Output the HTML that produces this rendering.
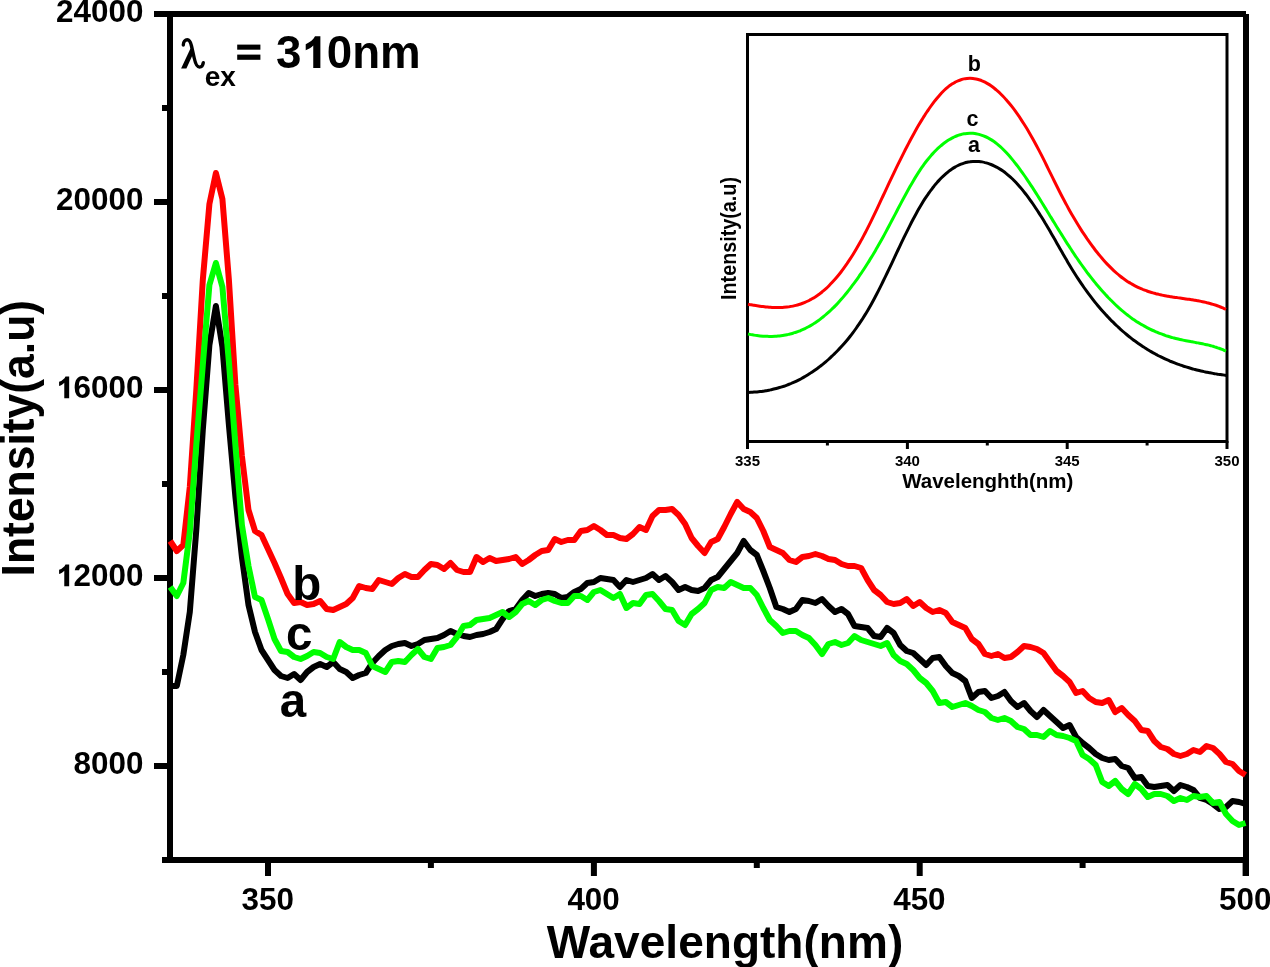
<!DOCTYPE html><html><head><meta charset="utf-8"><style>html,body{margin:0;padding:0;background:#fff;}svg{display:block;will-change:transform}text{font-family:"Liberation Sans",sans-serif;font-weight:bold;fill:#000}</style></head><body>
<svg width="1270" height="967" viewBox="0 0 1270 967">
<rect width="1270" height="967" fill="#fff"/>
<g fill="#000">
<rect x="154" y="11" width="1092" height="6"/>
<rect x="167" y="11" width="6" height="852"/>
<rect x="1243" y="14" width="6" height="862"/>
<rect x="162" y="857" width="1087" height="6"/>
<rect x="154" y="11.0" width="15" height="6"/>
<rect x="154" y="199.0" width="15" height="6"/>
<rect x="154" y="387.0" width="15" height="6"/>
<rect x="154" y="575.0" width="15" height="6"/>
<rect x="154" y="763.0" width="15" height="6"/>
<rect x="162" y="105.0" width="7" height="6"/>
<rect x="162" y="293.0" width="7" height="6"/>
<rect x="162" y="481.0" width="7" height="6"/>
<rect x="162" y="669.0" width="7" height="6"/>
<rect x="265.0" y="860" width="6" height="16"/>
<rect x="590.9" y="860" width="6" height="16"/>
<rect x="916.7" y="860" width="6" height="16"/>
<rect x="1242.6" y="860" width="6" height="16"/>
<rect x="427.9" y="860" width="6" height="8"/>
<rect x="753.8" y="860" width="6" height="8"/>
<rect x="1079.6" y="860" width="6" height="8"/>
</g>
<polyline points="170.2,686.0 176.8,686.0 183.3,655.0 189.8,612.0 196.3,530.0 202.8,430.0 209.4,345.0 215.9,306.0 222.4,347.0 228.9,425.0 235.4,497.0 241.9,557.0 248.5,605.0 255.0,632.0 261.5,650.0 268.0,660.0 274.5,670.0 281.0,676.0 287.6,678.0 294.1,674.0 300.6,680.0 307.1,672.0 313.6,667.0 320.1,664.0 326.7,667.0 333.2,662.0 339.7,669.0 346.2,672.0 352.7,678.0 359.2,675.0 365.8,673.0 372.3,663.0 378.8,656.0 385.3,650.0 391.8,646.0 398.3,644.0 404.9,643.0 411.4,646.0 417.9,644.0 424.4,640.0 430.9,639.0 437.4,638.0 444.0,635.0 450.5,631.0 457.0,634.0 463.5,636.0 470.0,637.0 476.5,635.0 483.1,634.0 489.6,632.0 496.1,629.0 502.6,619.0 509.1,611.0 515.7,609.0 522.2,600.0 528.7,593.0 535.2,596.0 541.7,594.0 548.2,593.0 554.8,594.0 561.3,598.0 567.8,597.0 574.3,592.0 580.8,589.0 587.3,583.0 593.9,582.0 600.4,578.0 606.9,579.0 613.4,580.0 619.9,587.0 626.4,580.0 633.0,582.0 639.5,580.0 646.0,578.0 652.5,574.0 659.0,580.0 665.5,576.0 672.1,582.0 678.6,590.0 685.1,587.0 691.6,590.0 698.1,591.0 704.6,588.0 711.2,580.0 717.7,577.0 724.2,569.0 730.7,561.0 737.2,553.0 743.7,541.0 750.3,550.0 756.8,555.0 763.3,571.0 769.8,588.0 776.3,607.0 782.8,609.0 789.4,612.0 795.9,609.0 802.4,600.0 808.9,601.0 815.4,603.0 822.0,599.0 828.5,606.0 835.0,612.0 841.5,609.0 848.0,614.0 854.5,626.0 861.1,627.0 867.6,628.0 874.1,636.0 880.6,637.0 887.1,628.0 893.6,633.0 900.2,645.0 906.7,651.0 913.2,653.0 919.7,659.0 926.2,665.0 932.7,658.0 939.3,657.0 945.8,666.0 952.3,673.0 958.8,676.0 965.3,681.0 971.8,698.0 978.4,692.0 984.9,691.0 991.4,698.0 997.9,696.0 1004.4,692.0 1010.9,701.0 1017.5,707.0 1024.0,703.0 1030.5,711.0 1037.0,717.0 1043.5,710.0 1050.0,716.0 1056.6,722.0 1063.1,728.0 1069.6,725.0 1076.1,737.0 1082.6,743.0 1089.1,748.0 1095.7,754.0 1102.2,758.0 1108.7,760.0 1115.2,759.0 1121.7,766.0 1128.2,768.0 1134.8,778.0 1141.3,777.0 1147.8,786.0 1154.3,787.0 1160.8,786.0 1167.4,785.0 1173.9,791.0 1180.4,785.0 1186.9,787.0 1193.4,790.0 1199.9,798.0 1206.5,800.0 1213.0,804.0 1219.5,809.0 1226.0,807.0 1232.5,801.0 1239.0,802.0 1245.5,804.0" fill="none" stroke="#000" stroke-width="6" stroke-linejoin="round" stroke-linecap="butt"/>
<polyline points="170.2,541.0 176.8,551.0 183.3,545.0 189.8,487.0 196.3,390.0 202.8,280.0 209.4,204.0 215.9,173.0 222.4,199.0 228.9,280.0 235.4,385.0 241.9,456.0 248.5,510.0 255.0,531.0 261.5,535.0 268.0,549.0 274.5,563.0 281.0,578.0 287.6,594.0 294.1,603.0 300.6,602.0 307.1,605.0 313.6,604.0 320.1,601.0 326.7,609.0 333.2,610.0 339.7,607.0 346.2,604.0 352.7,598.0 359.2,586.0 365.8,588.0 372.3,589.0 378.8,580.0 385.3,582.0 391.8,584.0 398.3,578.0 404.9,574.0 411.4,577.0 417.9,577.0 424.4,570.0 430.9,564.0 437.4,565.0 444.0,569.0 450.5,563.0 457.0,570.0 463.5,572.0 470.0,572.0 476.5,557.0 483.1,562.0 489.6,558.0 496.1,561.0 502.6,560.0 509.1,559.0 515.7,557.0 522.2,564.0 528.7,560.0 535.2,555.0 541.7,551.0 548.2,550.0 554.8,539.0 561.3,542.0 567.8,540.0 574.3,540.0 580.8,531.0 587.3,530.0 593.9,526.0 600.4,530.0 606.9,535.0 613.4,535.0 619.9,538.0 626.4,539.0 633.0,534.0 639.5,527.0 646.0,530.0 652.5,516.0 659.0,510.0 665.5,510.0 672.1,509.0 678.6,515.0 685.1,524.0 691.6,538.0 698.1,546.0 704.6,553.0 711.2,542.0 717.7,539.0 724.2,527.0 730.7,514.0 737.2,502.0 743.7,509.0 750.3,512.0 756.8,518.0 763.3,531.0 769.8,547.0 776.3,550.0 782.8,553.0 789.4,560.0 795.9,562.0 802.4,557.0 808.9,556.0 815.4,554.0 822.0,556.0 828.5,559.0 835.0,560.0 841.5,564.0 848.0,566.0 854.5,566.0 861.1,568.0 867.6,580.0 874.1,590.0 880.6,595.0 887.1,602.0 893.6,604.0 900.2,603.0 906.7,599.0 913.2,606.0 919.7,602.0 926.2,608.0 932.7,612.0 939.3,610.0 945.8,613.0 952.3,622.0 958.8,625.0 965.3,628.0 971.8,639.0 978.4,644.0 984.9,654.0 991.4,656.0 997.9,654.0 1004.4,658.0 1010.9,657.0 1017.5,652.0 1024.0,646.0 1030.5,647.0 1037.0,649.0 1043.5,653.0 1050.0,662.0 1056.6,671.0 1063.1,676.0 1069.6,682.0 1076.1,693.0 1082.6,691.0 1089.1,698.0 1095.7,702.0 1102.2,703.0 1108.7,700.0 1115.2,712.0 1121.7,708.0 1128.2,715.0 1134.8,721.0 1141.3,730.0 1147.8,731.0 1154.3,741.0 1160.8,747.0 1167.4,749.0 1173.9,754.0 1180.4,756.0 1186.9,754.0 1193.4,750.0 1199.9,752.0 1206.5,746.0 1213.0,748.0 1219.5,754.0 1226.0,762.0 1232.5,764.0 1239.0,771.0 1245.5,775.0" fill="none" stroke="#f00" stroke-width="6" stroke-linejoin="round" stroke-linecap="butt"/>
<polyline points="170.2,587.0 176.8,596.0 183.3,583.0 189.8,532.0 196.3,445.0 202.8,365.0 209.4,285.0 215.9,263.0 222.4,287.0 228.9,362.0 235.4,445.0 241.9,525.0 248.5,566.0 255.0,597.0 261.5,600.0 268.0,619.0 274.5,639.0 281.0,651.0 287.6,652.0 294.1,657.0 300.6,659.0 307.1,656.0 313.6,652.0 320.1,653.0 326.7,657.0 333.2,659.0 339.7,642.0 346.2,647.0 352.7,650.0 359.2,650.0 365.8,653.0 372.3,666.0 378.8,669.0 385.3,672.0 391.8,662.0 398.3,661.0 404.9,662.0 411.4,655.0 417.9,649.0 424.4,657.0 430.9,659.0 437.4,648.0 444.0,647.0 450.5,645.0 457.0,637.0 463.5,626.0 470.0,625.0 476.5,620.0 483.1,619.0 489.6,618.0 496.1,615.0 502.6,612.0 509.1,617.0 515.7,612.0 522.2,604.0 528.7,601.0 535.2,605.0 541.7,600.0 548.2,598.0 554.8,601.0 561.3,603.0 567.8,603.0 574.3,596.0 580.8,596.0 587.3,600.0 593.9,592.0 600.4,590.0 606.9,594.0 613.4,598.0 619.9,594.0 626.4,608.0 633.0,603.0 639.5,604.0 646.0,595.0 652.5,594.0 659.0,601.0 665.5,609.0 672.1,610.0 678.6,621.0 685.1,625.0 691.6,614.0 698.1,609.0 704.6,603.0 711.2,590.0 717.7,587.0 724.2,588.0 730.7,582.0 737.2,585.0 743.7,588.0 750.3,588.0 756.8,595.0 763.3,608.0 769.8,620.0 776.3,626.0 782.8,633.0 789.4,631.0 795.9,631.0 802.4,635.0 808.9,638.0 815.4,645.0 822.0,654.0 828.5,644.0 835.0,642.0 841.5,645.0 848.0,643.0 854.5,636.0 861.1,640.0 867.6,642.0 874.1,644.0 880.6,646.0 887.1,643.0 893.6,655.0 900.2,661.0 906.7,664.0 913.2,670.0 919.7,678.0 926.2,683.0 932.7,691.0 939.3,703.0 945.8,702.0 952.3,707.0 958.8,705.0 965.3,703.0 971.8,706.0 978.4,710.0 984.9,712.0 991.4,718.0 997.9,720.0 1004.4,718.0 1010.9,721.0 1017.5,727.0 1024.0,729.0 1030.5,735.0 1037.0,735.0 1043.5,737.0 1050.0,731.0 1056.6,735.0 1063.1,736.0 1069.6,738.0 1076.1,741.0 1082.6,755.0 1089.1,759.0 1095.7,765.0 1102.2,782.0 1108.7,786.0 1115.2,781.0 1121.7,789.0 1128.2,794.0 1134.8,784.0 1141.3,789.0 1147.8,797.0 1154.3,794.0 1160.8,794.0 1167.4,796.0 1173.9,801.0 1180.4,798.0 1186.9,800.0 1193.4,796.0 1199.9,797.0 1206.5,796.0 1213.0,803.0 1219.5,802.0 1226.0,814.0 1232.5,821.0 1239.0,825.0 1245.5,823.0" fill="none" stroke="#0f0" stroke-width="6" stroke-linejoin="round" stroke-linecap="butt"/>
<text x="56.08" y="22.20" font-size="31.4" >24000</text>
<text x="56.08" y="210.20" font-size="31.4" >20000</text>
<path transform="translate(56.08,398.20) scale(31.4)" d="M0.261,0 L0.417,0 L0.417,-0.691 L0.3,-0.691 C0.27,-0.62 0.19,-0.555 0.096,-0.52 L0.096,-0.385 C0.16,-0.41 0.22,-0.445 0.261,-0.49 Z" fill="#000"/><text x="73.55" y="398.20" font-size="31.4" >6000</text>
<path transform="translate(56.08,586.20) scale(31.4)" d="M0.261,0 L0.417,0 L0.417,-0.691 L0.3,-0.691 C0.27,-0.62 0.19,-0.555 0.096,-0.52 L0.096,-0.385 C0.16,-0.41 0.22,-0.445 0.261,-0.49 Z" fill="#000"/><text x="73.55" y="586.20" font-size="31.4" >2000</text>
<text x="73.55" y="774.20" font-size="31.4" >8000</text>
<text x="267.7" y="910" font-size="31.4" text-anchor="middle">350</text>
<text x="593.6" y="910" font-size="31.4" text-anchor="middle">400</text>
<text x="919.4" y="910" font-size="31.4" text-anchor="middle">450</text>
<text x="1245.3" y="910" font-size="31.4" text-anchor="middle">500</text>
<text x="725.0" y="957.7" font-size="45.3" text-anchor="middle" textLength="356.5" lengthAdjust="spacingAndGlyphs">Wavelength(nm)</text>
<text transform="translate(34.2,438.15) rotate(-90)" x="0" y="0" font-size="47" text-anchor="middle" textLength="276.5" lengthAdjust="spacingAndGlyphs">Intensity(a.u)</text>
<path d="M183.3,45.0 C183.3,41.4 185.3,39.8 187.3,39.8 C189.5,39.8 190.7,42.5 191.5,46 L194.2,58 C195.5,64 197,67.1 199.5,67.1 C201.8,67.1 203,65 203.3,62.6" fill="none" stroke="#000" stroke-width="3.4" stroke-linecap="round"/>
<path d="M181.1,68.4 L186.4,68.4 L193.3,53.5 L190.6,48.3 Z" fill="#000"/>
<text x="204.7" y="86.4" font-size="28">ex</text>
<rect x="237.2" y="44.6" width="23.2" height="5.1" fill="#000"/><rect x="237.2" y="54.6" width="23.2" height="5.2" fill="#000"/>
<text x="275.90" y="67.90" font-size="45.7" >3</text><path transform="translate(301.32,67.90) scale(45.7)" d="M0.261,0 L0.417,0 L0.417,-0.691 L0.3,-0.691 C0.27,-0.62 0.19,-0.555 0.096,-0.52 L0.096,-0.385 C0.16,-0.41 0.22,-0.445 0.261,-0.49 Z" fill="#000"/><text x="326.73" y="67.90" font-size="45.7" >0nm</text>
<text x="292.3" y="600" font-size="47.5">b</text>
<text x="286" y="650.4" font-size="47.5">c</text>
<text x="279.8" y="717" font-size="47.5">a</text>
<rect x="747.5" y="34.5" width="479.5" height="407" fill="#fff" stroke="#000" stroke-width="3"/>
<path d="M748.0,392.4 C748.5,392.4 750.0,392.4 751.0,392.3 C752.0,392.2 753.0,392.2 754.0,392.1 C755.0,392.0 756.0,392.0 757.0,391.9 C758.0,391.8 759.0,391.7 760.0,391.6 C761.0,391.5 762.0,391.4 763.0,391.2 C764.0,391.0 765.0,390.9 766.0,390.7 C767.0,390.5 768.0,390.4 769.0,390.2 C770.0,390.0 771.0,389.7 772.0,389.5 C773.0,389.3 774.0,389.1 775.0,388.8 C776.0,388.6 777.0,388.3 778.0,388.0 C779.0,387.7 780.0,387.4 781.0,387.1 C782.0,386.8 783.0,386.5 784.0,386.2 C785.0,385.9 786.0,385.5 787.0,385.1 C788.0,384.7 789.0,384.3 790.0,383.9 C791.0,383.5 792.0,383.0 793.0,382.6 C794.0,382.2 795.0,381.8 796.0,381.3 C797.0,380.8 798.0,380.3 799.0,379.8 C800.0,379.3 801.0,378.8 802.0,378.2 C803.0,377.6 804.0,377.1 805.0,376.5 C806.0,375.9 807.0,375.3 808.0,374.7 C809.0,374.1 810.0,373.4 811.0,372.8 C812.0,372.2 813.0,371.5 814.0,370.8 C815.0,370.1 816.0,369.4 817.0,368.7 C818.0,368.0 819.0,367.2 820.0,366.4 C821.0,365.6 822.0,364.9 823.0,364.1 C824.0,363.3 825.0,362.5 826.0,361.6 C827.0,360.8 828.0,359.9 829.0,359.0 C830.0,358.1 831.0,357.1 832.0,356.2 C833.0,355.2 834.0,354.3 835.0,353.3 C836.0,352.3 837.0,351.3 838.0,350.3 C839.0,349.3 840.0,348.2 841.0,347.1 C842.0,346.0 843.0,344.9 844.0,343.8 C845.0,342.7 846.0,341.5 847.0,340.3 C848.0,339.1 849.0,337.8 850.0,336.5 C851.0,335.2 852.0,333.9 853.0,332.6 C854.0,331.3 855.0,329.9 856.0,328.5 C857.0,327.1 858.0,325.7 859.0,324.2 C860.0,322.7 861.0,321.2 862.0,319.7 C863.0,318.1 864.0,316.5 865.0,314.9 C866.0,313.3 867.0,311.6 868.0,309.9 C869.0,308.2 870.0,306.5 871.0,304.7 C872.0,302.9 873.0,301.1 874.0,299.2 C875.0,297.3 876.0,295.4 877.0,293.5 C878.0,291.6 879.0,289.6 880.0,287.6 C881.0,285.6 882.0,283.5 883.0,281.5 C884.0,279.5 885.0,277.5 886.0,275.4 C887.0,273.3 888.0,271.2 889.0,269.1 C890.0,267.0 891.0,264.9 892.0,262.8 C893.0,260.7 894.0,258.5 895.0,256.4 C896.0,254.3 897.0,252.1 898.0,250.0 C899.0,247.9 900.0,245.8 901.0,243.7 C902.0,241.6 903.0,239.5 904.0,237.4 C905.0,235.3 906.0,233.3 907.0,231.3 C908.0,229.3 909.0,227.3 910.0,225.3 C911.0,223.3 912.0,221.4 913.0,219.5 C914.0,217.6 915.0,215.7 916.0,213.9 C917.0,212.1 918.0,210.3 919.0,208.6 C920.0,206.9 921.0,205.2 922.0,203.5 C923.0,201.8 924.0,200.2 925.0,198.7 C926.0,197.2 927.0,195.7 928.0,194.3 C929.0,192.9 930.0,191.4 931.0,190.1 C932.0,188.8 933.0,187.4 934.0,186.2 C935.0,184.9 936.0,183.8 937.0,182.6 C938.0,181.4 939.0,180.4 940.0,179.3 C941.0,178.2 942.0,177.2 943.0,176.3 C944.0,175.4 945.0,174.5 946.0,173.6 C947.0,172.7 948.0,171.9 949.0,171.1 C950.0,170.3 951.0,169.7 952.0,169.0 C953.0,168.3 954.0,167.7 955.0,167.1 C956.0,166.5 957.0,166.0 958.0,165.5 C959.0,165.0 960.0,164.6 961.0,164.2 C962.0,163.8 963.0,163.4 964.0,163.1 C965.0,162.8 966.0,162.5 967.0,162.3 C968.0,162.1 969.0,161.8 970.0,161.7 C971.0,161.5 972.0,161.4 973.0,161.4 C974.0,161.4 975.0,161.4 976.0,161.4 C977.0,161.4 978.0,161.4 979.0,161.5 C980.0,161.6 981.0,161.7 982.0,161.9 C983.0,162.1 984.0,162.3 985.0,162.6 C986.0,162.8 987.0,163.1 988.0,163.4 C989.0,163.7 990.0,164.1 991.0,164.5 C992.0,164.9 993.0,165.3 994.0,165.8 C995.0,166.3 996.0,166.8 997.0,167.3 C998.0,167.9 999.0,168.5 1000.0,169.1 C1001.0,169.7 1002.0,170.4 1003.0,171.1 C1004.0,171.8 1005.0,172.5 1006.0,173.3 C1007.0,174.1 1008.0,174.9 1009.0,175.8 C1010.0,176.7 1011.0,177.6 1012.0,178.5 C1013.0,179.4 1014.0,180.5 1015.0,181.5 C1016.0,182.5 1017.0,183.6 1018.0,184.7 C1019.0,185.8 1020.0,186.9 1021.0,188.1 C1022.0,189.3 1023.0,190.5 1024.0,191.8 C1025.0,193.1 1026.0,194.4 1027.0,195.7 C1028.0,197.0 1029.0,198.4 1030.0,199.8 C1031.0,201.2 1032.0,202.6 1033.0,204.0 C1034.0,205.4 1035.0,207.0 1036.0,208.5 C1037.0,210.0 1038.0,211.5 1039.0,213.1 C1040.0,214.7 1041.0,216.2 1042.0,217.8 C1043.0,219.4 1044.0,221.0 1045.0,222.7 C1046.0,224.3 1047.0,226.0 1048.0,227.7 C1049.0,229.4 1050.0,231.2 1051.0,232.9 C1052.0,234.6 1053.0,236.3 1054.0,238.1 C1055.0,239.8 1056.0,241.6 1057.0,243.4 C1058.0,245.2 1059.0,246.9 1060.0,248.7 C1061.0,250.4 1062.0,252.2 1063.0,253.9 C1064.0,255.6 1065.0,257.4 1066.0,259.1 C1067.0,260.8 1068.0,262.6 1069.0,264.3 C1070.0,266.0 1071.0,267.6 1072.0,269.2 C1073.0,270.8 1074.0,272.4 1075.0,274.0 C1076.0,275.6 1077.0,277.2 1078.0,278.7 C1079.0,280.2 1080.0,281.7 1081.0,283.2 C1082.0,284.7 1083.0,286.1 1084.0,287.5 C1085.0,288.9 1086.0,290.3 1087.0,291.7 C1088.0,293.1 1089.0,294.4 1090.0,295.7 C1091.0,297.0 1092.0,298.3 1093.0,299.6 C1094.0,300.9 1095.0,302.2 1096.0,303.4 C1097.0,304.6 1098.0,305.8 1099.0,307.0 C1100.0,308.2 1101.0,309.4 1102.0,310.5 C1103.0,311.6 1104.0,312.7 1105.0,313.8 C1106.0,314.9 1107.0,315.9 1108.0,317.0 C1109.0,318.1 1110.0,319.2 1111.0,320.2 C1112.0,321.2 1113.0,322.1 1114.0,323.1 C1115.0,324.1 1116.0,325.1 1117.0,326.0 C1118.0,326.9 1119.0,327.9 1120.0,328.8 C1121.0,329.7 1122.0,330.6 1123.0,331.5 C1124.0,332.4 1125.0,333.2 1126.0,334.0 C1127.0,334.8 1128.0,335.7 1129.0,336.5 C1130.0,337.3 1131.0,338.0 1132.0,338.8 C1133.0,339.6 1134.0,340.4 1135.0,341.1 C1136.0,341.8 1137.0,342.5 1138.0,343.2 C1139.0,343.9 1140.0,344.6 1141.0,345.3 C1142.0,346.0 1143.0,346.7 1144.0,347.3 C1145.0,347.9 1146.0,348.6 1147.0,349.2 C1148.0,349.8 1149.0,350.4 1150.0,351.0 C1151.0,351.6 1152.0,352.1 1153.0,352.7 C1154.0,353.3 1155.0,353.8 1156.0,354.4 C1157.0,354.9 1158.0,355.5 1159.0,356.0 C1160.0,356.5 1161.0,356.9 1162.0,357.4 C1163.0,357.9 1164.0,358.4 1165.0,358.9 C1166.0,359.4 1167.0,359.8 1168.0,360.2 C1169.0,360.6 1170.0,361.1 1171.0,361.5 C1172.0,361.9 1173.0,362.3 1174.0,362.7 C1175.0,363.1 1176.0,363.5 1177.0,363.9 C1178.0,364.3 1179.0,364.5 1180.0,364.9 C1181.0,365.2 1182.0,365.7 1183.0,366.0 C1184.0,366.3 1185.0,366.6 1186.0,366.9 C1187.0,367.2 1188.0,367.5 1189.0,367.8 C1190.0,368.1 1191.0,368.4 1192.0,368.7 C1193.0,369.0 1194.0,369.2 1195.0,369.5 C1196.0,369.8 1197.0,370.1 1198.0,370.3 C1199.0,370.6 1200.0,370.8 1201.0,371.0 C1202.0,371.2 1203.0,371.4 1204.0,371.6 C1205.0,371.8 1206.0,372.1 1207.0,372.3 C1208.0,372.5 1209.0,372.6 1210.0,372.8 C1211.0,373.0 1212.0,373.2 1213.0,373.4 C1214.0,373.6 1215.0,373.7 1216.0,373.9 C1217.0,374.1 1218.0,374.2 1219.0,374.4 C1220.0,374.5 1221.0,374.7 1222.0,374.8 C1223.0,374.9 1224.3,375.1 1225.0,375.2 C1225.7,375.3 1225.8,375.4 1226.0,375.4" fill="none" stroke="#000" stroke-width="3"/>
<path d="M748.0,304.3 C748.5,304.4 750.0,304.6 751.0,304.8 C752.0,305.0 753.0,305.1 754.0,305.3 C755.0,305.5 756.0,305.7 757.0,305.8 C758.0,305.9 759.0,306.1 760.0,306.2 C761.0,306.3 762.0,306.5 763.0,306.6 C764.0,306.7 765.0,306.9 766.0,307.0 C767.0,307.1 768.0,307.1 769.0,307.2 C770.0,307.3 771.0,307.3 772.0,307.4 C773.0,307.5 774.0,307.6 775.0,307.6 C776.0,307.6 777.0,307.6 778.0,307.6 C779.0,307.6 780.0,307.6 781.0,307.5 C782.0,307.4 783.0,307.4 784.0,307.3 C785.0,307.2 786.0,307.1 787.0,307.0 C788.0,306.9 789.0,306.8 790.0,306.6 C791.0,306.5 792.0,306.3 793.0,306.1 C794.0,305.9 795.0,305.7 796.0,305.4 C797.0,305.1 798.0,304.8 799.0,304.5 C800.0,304.2 801.0,303.9 802.0,303.5 C803.0,303.1 804.0,302.7 805.0,302.3 C806.0,301.9 807.0,301.5 808.0,301.0 C809.0,300.5 810.0,299.9 811.0,299.4 C812.0,298.8 813.0,298.3 814.0,297.7 C815.0,297.1 816.0,296.4 817.0,295.7 C818.0,295.0 819.0,294.4 820.0,293.6 C821.0,292.9 822.0,292.0 823.0,291.2 C824.0,290.4 825.0,289.5 826.0,288.6 C827.0,287.7 828.0,286.7 829.0,285.7 C830.0,284.7 831.0,283.7 832.0,282.6 C833.0,281.5 834.0,280.4 835.0,279.3 C836.0,278.2 837.0,277.0 838.0,275.8 C839.0,274.6 840.0,273.3 841.0,272.0 C842.0,270.7 843.0,269.3 844.0,267.9 C845.0,266.5 846.0,265.1 847.0,263.7 C848.0,262.2 849.0,260.7 850.0,259.2 C851.0,257.7 852.0,256.1 853.0,254.5 C854.0,252.9 855.0,251.2 856.0,249.5 C857.0,247.8 858.0,246.1 859.0,244.3 C860.0,242.5 861.0,240.8 862.0,238.9 C863.0,237.1 864.0,235.1 865.0,233.2 C866.0,231.3 867.0,229.3 868.0,227.3 C869.0,225.3 870.0,223.3 871.0,221.3 C872.0,219.3 873.0,217.2 874.0,215.1 C875.0,213.0 876.0,210.9 877.0,208.8 C878.0,206.7 879.0,204.5 880.0,202.4 C881.0,200.3 882.0,198.1 883.0,196.0 C884.0,193.9 885.0,191.7 886.0,189.6 C887.0,187.5 888.0,185.3 889.0,183.2 C890.0,181.1 891.0,179.0 892.0,176.9 C893.0,174.8 894.0,172.7 895.0,170.6 C896.0,168.5 897.0,166.4 898.0,164.4 C899.0,162.4 900.0,160.3 901.0,158.3 C902.0,156.3 903.0,154.3 904.0,152.3 C905.0,150.3 906.0,148.4 907.0,146.5 C908.0,144.6 909.0,142.6 910.0,140.7 C911.0,138.8 912.0,137.0 913.0,135.2 C914.0,133.4 915.0,131.6 916.0,129.8 C917.0,128.0 918.0,126.3 919.0,124.6 C920.0,122.9 921.0,121.2 922.0,119.6 C923.0,118.0 924.0,116.3 925.0,114.8 C926.0,113.2 927.0,111.8 928.0,110.3 C929.0,108.8 930.0,107.4 931.0,106.0 C932.0,104.6 933.0,103.2 934.0,101.9 C935.0,100.6 936.0,99.4 937.0,98.2 C938.0,97.0 939.0,95.8 940.0,94.7 C941.0,93.6 942.0,92.5 943.0,91.5 C944.0,90.5 945.0,89.6 946.0,88.7 C947.0,87.8 948.0,87.0 949.0,86.2 C950.0,85.4 951.0,84.8 952.0,84.1 C953.0,83.4 954.0,82.8 955.0,82.3 C956.0,81.8 957.0,81.2 958.0,80.8 C959.0,80.4 960.0,80.0 961.0,79.7 C962.0,79.4 963.0,79.1 964.0,78.9 C965.0,78.7 966.0,78.6 967.0,78.5 C968.0,78.4 969.0,78.3 970.0,78.3 C971.0,78.3 972.0,78.4 973.0,78.5 C974.0,78.6 975.0,78.8 976.0,79.0 C977.0,79.2 978.0,79.5 979.0,79.8 C980.0,80.1 981.0,80.4 982.0,80.8 C983.0,81.2 984.0,81.7 985.0,82.2 C986.0,82.7 987.0,83.3 988.0,83.9 C989.0,84.5 990.0,85.1 991.0,85.8 C992.0,86.5 993.0,87.2 994.0,88.0 C995.0,88.8 996.0,89.6 997.0,90.5 C998.0,91.4 999.0,92.2 1000.0,93.2 C1001.0,94.2 1002.0,95.2 1003.0,96.2 C1004.0,97.2 1005.0,98.4 1006.0,99.5 C1007.0,100.6 1008.0,101.8 1009.0,103.0 C1010.0,104.2 1011.0,105.4 1012.0,106.7 C1013.0,108.0 1014.0,109.3 1015.0,110.7 C1016.0,112.1 1017.0,113.5 1018.0,114.9 C1019.0,116.3 1020.0,117.8 1021.0,119.3 C1022.0,120.8 1023.0,122.4 1024.0,124.0 C1025.0,125.6 1026.0,127.2 1027.0,128.8 C1028.0,130.5 1029.0,132.2 1030.0,133.9 C1031.0,135.6 1032.0,137.4 1033.0,139.2 C1034.0,141.0 1035.0,142.8 1036.0,144.7 C1037.0,146.6 1038.0,148.5 1039.0,150.4 C1040.0,152.3 1041.0,154.2 1042.0,156.2 C1043.0,158.2 1044.0,160.2 1045.0,162.2 C1046.0,164.2 1047.0,166.3 1048.0,168.3 C1049.0,170.3 1050.0,172.4 1051.0,174.4 C1052.0,176.4 1053.0,178.5 1054.0,180.5 C1055.0,182.5 1056.0,184.5 1057.0,186.5 C1058.0,188.5 1059.0,190.5 1060.0,192.5 C1061.0,194.5 1062.0,196.4 1063.0,198.3 C1064.0,200.2 1065.0,202.1 1066.0,203.9 C1067.0,205.8 1068.0,207.6 1069.0,209.4 C1070.0,211.2 1071.0,213.0 1072.0,214.7 C1073.0,216.4 1074.0,218.1 1075.0,219.8 C1076.0,221.5 1077.0,223.2 1078.0,224.8 C1079.0,226.4 1080.0,228.0 1081.0,229.6 C1082.0,231.2 1083.0,232.7 1084.0,234.2 C1085.0,235.7 1086.0,237.2 1087.0,238.7 C1088.0,240.1 1089.0,241.5 1090.0,242.9 C1091.0,244.3 1092.0,245.7 1093.0,247.0 C1094.0,248.3 1095.0,249.7 1096.0,251.0 C1097.0,252.3 1098.0,253.5 1099.0,254.7 C1100.0,255.9 1101.0,257.1 1102.0,258.3 C1103.0,259.5 1104.0,260.6 1105.0,261.7 C1106.0,262.8 1107.0,263.9 1108.0,264.9 C1109.0,265.9 1110.0,266.9 1111.0,267.9 C1112.0,268.9 1113.0,269.9 1114.0,270.8 C1115.0,271.7 1116.0,272.6 1117.0,273.5 C1118.0,274.4 1119.0,275.2 1120.0,276.0 C1121.0,276.8 1122.0,277.6 1123.0,278.3 C1124.0,279.0 1125.0,279.7 1126.0,280.4 C1127.0,281.1 1128.0,281.8 1129.0,282.4 C1130.0,283.0 1131.0,283.5 1132.0,284.1 C1133.0,284.7 1134.0,285.3 1135.0,285.8 C1136.0,286.3 1137.0,286.8 1138.0,287.3 C1139.0,287.8 1140.0,288.2 1141.0,288.6 C1142.0,289.0 1143.0,289.5 1144.0,289.9 C1145.0,290.3 1146.0,290.6 1147.0,291.0 C1148.0,291.4 1149.0,291.7 1150.0,292.0 C1151.0,292.3 1152.0,292.6 1153.0,292.9 C1154.0,293.2 1155.0,293.4 1156.0,293.7 C1157.0,293.9 1158.0,294.2 1159.0,294.4 C1160.0,294.6 1161.0,294.9 1162.0,295.1 C1163.0,295.3 1164.0,295.5 1165.0,295.7 C1166.0,295.9 1167.0,296.0 1168.0,296.2 C1169.0,296.4 1170.0,296.5 1171.0,296.7 C1172.0,296.9 1173.0,297.0 1174.0,297.2 C1175.0,297.4 1176.0,297.5 1177.0,297.6 C1178.0,297.8 1179.0,298.0 1180.0,298.1 C1181.0,298.2 1182.0,298.4 1183.0,298.5 C1184.0,298.6 1185.0,298.8 1186.0,298.9 C1187.0,299.0 1188.0,299.1 1189.0,299.3 C1190.0,299.5 1191.0,299.6 1192.0,299.8 C1193.0,300.0 1194.0,300.1 1195.0,300.3 C1196.0,300.5 1197.0,300.6 1198.0,300.8 C1199.0,301.0 1200.0,301.2 1201.0,301.4 C1202.0,301.6 1203.0,301.8 1204.0,302.0 C1205.0,302.2 1206.0,302.4 1207.0,302.7 C1208.0,302.9 1209.0,303.2 1210.0,303.5 C1211.0,303.8 1212.0,304.1 1213.0,304.4 C1214.0,304.7 1215.0,305.0 1216.0,305.3 C1217.0,305.6 1218.0,306.0 1219.0,306.4 C1220.0,306.8 1221.0,307.2 1222.0,307.6 C1223.0,308.0 1224.3,308.6 1225.0,308.9 C1225.7,309.2 1225.8,309.2 1226.0,309.3" fill="none" stroke="#f00" stroke-width="3"/>
<path d="M748.0,334.0 C748.5,334.1 750.0,334.4 751.0,334.6 C752.0,334.8 753.0,334.9 754.0,335.1 C755.0,335.3 756.0,335.5 757.0,335.6 C758.0,335.7 759.0,335.8 760.0,335.9 C761.0,336.0 762.0,336.1 763.0,336.2 C764.0,336.3 765.0,336.3 766.0,336.3 C767.0,336.3 768.0,336.4 769.0,336.4 C770.0,336.4 771.0,336.4 772.0,336.4 C773.0,336.4 774.0,336.4 775.0,336.3 C776.0,336.2 777.0,336.2 778.0,336.1 C779.0,336.0 780.0,335.8 781.0,335.7 C782.0,335.6 783.0,335.5 784.0,335.3 C785.0,335.1 786.0,334.9 787.0,334.7 C788.0,334.5 789.0,334.2 790.0,334.0 C791.0,333.8 792.0,333.5 793.0,333.2 C794.0,332.9 795.0,332.5 796.0,332.2 C797.0,331.9 798.0,331.6 799.0,331.2 C800.0,330.8 801.0,330.3 802.0,329.9 C803.0,329.5 804.0,329.1 805.0,328.6 C806.0,328.1 807.0,327.5 808.0,327.0 C809.0,326.5 810.0,326.0 811.0,325.4 C812.0,324.8 813.0,324.1 814.0,323.5 C815.0,322.9 816.0,322.2 817.0,321.5 C818.0,320.8 819.0,320.1 820.0,319.4 C821.0,318.6 822.0,317.8 823.0,317.0 C824.0,316.2 825.0,315.4 826.0,314.5 C827.0,313.6 828.0,312.8 829.0,311.9 C830.0,311.0 831.0,310.0 832.0,309.0 C833.0,308.0 834.0,307.1 835.0,306.1 C836.0,305.1 837.0,304.0 838.0,302.9 C839.0,301.8 840.0,300.7 841.0,299.6 C842.0,298.5 843.0,297.3 844.0,296.1 C845.0,294.9 846.0,293.7 847.0,292.5 C848.0,291.3 849.0,290.0 850.0,288.7 C851.0,287.4 852.0,286.0 853.0,284.7 C854.0,283.4 855.0,282.1 856.0,280.7 C857.0,279.3 858.0,277.8 859.0,276.4 C860.0,274.9 861.0,273.5 862.0,272.0 C863.0,270.5 864.0,269.0 865.0,267.5 C866.0,266.0 867.0,264.4 868.0,262.8 C869.0,261.2 870.0,259.5 871.0,257.9 C872.0,256.3 873.0,254.7 874.0,253.0 C875.0,251.3 876.0,249.5 877.0,247.8 C878.0,246.1 879.0,244.4 880.0,242.6 C881.0,240.8 882.0,239.0 883.0,237.2 C884.0,235.4 885.0,233.5 886.0,231.6 C887.0,229.7 888.0,227.9 889.0,226.0 C890.0,224.1 891.0,222.2 892.0,220.3 C893.0,218.4 894.0,216.5 895.0,214.6 C896.0,212.7 897.0,210.7 898.0,208.8 C899.0,206.9 900.0,205.0 901.0,203.1 C902.0,201.2 903.0,199.3 904.0,197.5 C905.0,195.7 906.0,193.8 907.0,192.0 C908.0,190.2 909.0,188.4 910.0,186.6 C911.0,184.8 912.0,183.1 913.0,181.4 C914.0,179.7 915.0,178.0 916.0,176.4 C917.0,174.8 918.0,173.2 919.0,171.7 C920.0,170.2 921.0,168.6 922.0,167.2 C923.0,165.8 924.0,164.3 925.0,163.0 C926.0,161.7 927.0,160.4 928.0,159.2 C929.0,158.0 930.0,156.8 931.0,155.6 C932.0,154.4 933.0,153.4 934.0,152.3 C935.0,151.2 936.0,150.2 937.0,149.2 C938.0,148.2 939.0,147.4 940.0,146.5 C941.0,145.6 942.0,144.8 943.0,144.0 C944.0,143.2 945.0,142.5 946.0,141.8 C947.0,141.1 948.0,140.4 949.0,139.8 C950.0,139.2 951.0,138.6 952.0,138.1 C953.0,137.6 954.0,137.0 955.0,136.6 C956.0,136.2 957.0,135.8 958.0,135.4 C959.0,135.1 960.0,134.8 961.0,134.5 C962.0,134.2 963.0,134.0 964.0,133.8 C965.0,133.6 966.0,133.5 967.0,133.4 C968.0,133.3 969.0,133.2 970.0,133.2 C971.0,133.2 972.0,133.2 973.0,133.3 C974.0,133.4 975.0,133.5 976.0,133.7 C977.0,133.9 978.0,134.1 979.0,134.4 C980.0,134.7 981.0,135.0 982.0,135.3 C983.0,135.7 984.0,136.1 985.0,136.5 C986.0,136.9 987.0,137.4 988.0,137.9 C989.0,138.4 990.0,139.0 991.0,139.6 C992.0,140.2 993.0,140.9 994.0,141.6 C995.0,142.3 996.0,143.1 997.0,143.9 C998.0,144.7 999.0,145.5 1000.0,146.4 C1001.0,147.3 1002.0,148.2 1003.0,149.2 C1004.0,150.2 1005.0,151.2 1006.0,152.3 C1007.0,153.4 1008.0,154.5 1009.0,155.6 C1010.0,156.7 1011.0,157.9 1012.0,159.1 C1013.0,160.3 1014.0,161.5 1015.0,162.8 C1016.0,164.1 1017.0,165.4 1018.0,166.7 C1019.0,168.0 1020.0,169.4 1021.0,170.8 C1022.0,172.2 1023.0,173.6 1024.0,175.0 C1025.0,176.4 1026.0,177.9 1027.0,179.4 C1028.0,180.9 1029.0,182.3 1030.0,183.8 C1031.0,185.3 1032.0,186.9 1033.0,188.4 C1034.0,189.9 1035.0,191.5 1036.0,193.1 C1037.0,194.7 1038.0,196.3 1039.0,197.9 C1040.0,199.5 1041.0,201.1 1042.0,202.7 C1043.0,204.3 1044.0,206.0 1045.0,207.6 C1046.0,209.2 1047.0,210.9 1048.0,212.5 C1049.0,214.1 1050.0,215.8 1051.0,217.4 C1052.0,219.0 1053.0,220.7 1054.0,222.3 C1055.0,223.9 1056.0,225.6 1057.0,227.2 C1058.0,228.8 1059.0,230.4 1060.0,232.0 C1061.0,233.6 1062.0,235.2 1063.0,236.8 C1064.0,238.4 1065.0,240.0 1066.0,241.6 C1067.0,243.2 1068.0,244.7 1069.0,246.2 C1070.0,247.7 1071.0,249.3 1072.0,250.8 C1073.0,252.3 1074.0,253.8 1075.0,255.3 C1076.0,256.8 1077.0,258.2 1078.0,259.7 C1079.0,261.1 1080.0,262.6 1081.0,264.0 C1082.0,265.4 1083.0,266.8 1084.0,268.2 C1085.0,269.6 1086.0,271.0 1087.0,272.3 C1088.0,273.6 1089.0,274.9 1090.0,276.2 C1091.0,277.5 1092.0,278.8 1093.0,280.0 C1094.0,281.2 1095.0,282.5 1096.0,283.7 C1097.0,284.9 1098.0,286.0 1099.0,287.2 C1100.0,288.4 1101.0,289.6 1102.0,290.7 C1103.0,291.8 1104.0,292.9 1105.0,294.0 C1106.0,295.1 1107.0,296.1 1108.0,297.2 C1109.0,298.2 1110.0,299.3 1111.0,300.3 C1112.0,301.3 1113.0,302.3 1114.0,303.3 C1115.0,304.3 1116.0,305.2 1117.0,306.1 C1118.0,307.0 1119.0,307.9 1120.0,308.8 C1121.0,309.7 1122.0,310.6 1123.0,311.4 C1124.0,312.2 1125.0,313.0 1126.0,313.8 C1127.0,314.6 1128.0,315.4 1129.0,316.2 C1130.0,317.0 1131.0,317.7 1132.0,318.4 C1133.0,319.1 1134.0,319.7 1135.0,320.4 C1136.0,321.1 1137.0,321.8 1138.0,322.4 C1139.0,323.0 1140.0,323.6 1141.0,324.2 C1142.0,324.8 1143.0,325.3 1144.0,325.9 C1145.0,326.5 1146.0,327.1 1147.0,327.6 C1148.0,328.1 1149.0,328.6 1150.0,329.1 C1151.0,329.6 1152.0,330.1 1153.0,330.5 C1154.0,330.9 1155.0,331.4 1156.0,331.8 C1157.0,332.2 1158.0,332.7 1159.0,333.1 C1160.0,333.5 1161.0,333.8 1162.0,334.2 C1163.0,334.6 1164.0,334.9 1165.0,335.3 C1166.0,335.7 1167.0,336.0 1168.0,336.3 C1169.0,336.6 1170.0,336.9 1171.0,337.2 C1172.0,337.5 1173.0,337.7 1174.0,338.0 C1175.0,338.3 1176.0,338.6 1177.0,338.8 C1178.0,339.1 1179.0,339.3 1180.0,339.5 C1181.0,339.7 1182.0,339.9 1183.0,340.1 C1184.0,340.3 1185.0,340.5 1186.0,340.7 C1187.0,340.9 1188.0,341.1 1189.0,341.3 C1190.0,341.5 1191.0,341.6 1192.0,341.8 C1193.0,342.0 1194.0,342.2 1195.0,342.4 C1196.0,342.6 1197.0,342.7 1198.0,342.9 C1199.0,343.1 1200.0,343.3 1201.0,343.5 C1202.0,343.7 1203.0,343.9 1204.0,344.1 C1205.0,344.3 1206.0,344.6 1207.0,344.8 C1208.0,345.0 1209.0,345.2 1210.0,345.5 C1211.0,345.8 1212.0,346.0 1213.0,346.3 C1214.0,346.6 1215.0,347.0 1216.0,347.3 C1217.0,347.6 1218.0,348.0 1219.0,348.3 C1220.0,348.6 1221.0,349.0 1222.0,349.4 C1223.0,349.8 1224.3,350.4 1225.0,350.7 C1225.7,351.0 1225.8,351.1 1226.0,351.2" fill="none" stroke="#0f0" stroke-width="3"/>
<g fill="#000">
<rect x="746.0" y="441" width="3" height="8"/>
<rect x="905.9" y="441" width="3" height="8"/>
<rect x="1065.7" y="441" width="3" height="8"/>
<rect x="1225.5" y="441" width="3" height="8"/>
<rect x="825.9" y="441" width="3" height="4.5"/>
<rect x="985.8" y="441" width="3" height="4.5"/>
<rect x="1145.6" y="441" width="3" height="4.5"/>
</g>
<text x="747.5" y="465.5" font-size="15" text-anchor="middle">335</text>
<text x="907.4" y="465.5" font-size="15" text-anchor="middle">340</text>
<text x="1067.2" y="465.5" font-size="15" text-anchor="middle">345</text>
<text x="1227.0" y="465.5" font-size="15" text-anchor="middle">350</text>
<text x="987.8" y="488.3" font-size="20.5" text-anchor="middle" textLength="171.3" lengthAdjust="spacingAndGlyphs">Wavelenghth(nm)</text>
<text transform="translate(736.4,238.5) rotate(-90)" font-size="22.6" text-anchor="middle" textLength="123" lengthAdjust="spacingAndGlyphs">Intensity(a.u)</text>
<text x="974.3" y="70.5" font-size="21.5" text-anchor="middle">b</text>
<text x="972.6" y="125.7" font-size="21.5" text-anchor="middle">c</text>
<text x="973.9" y="151.6" font-size="21.5" text-anchor="middle">a</text>
</svg></body></html>
